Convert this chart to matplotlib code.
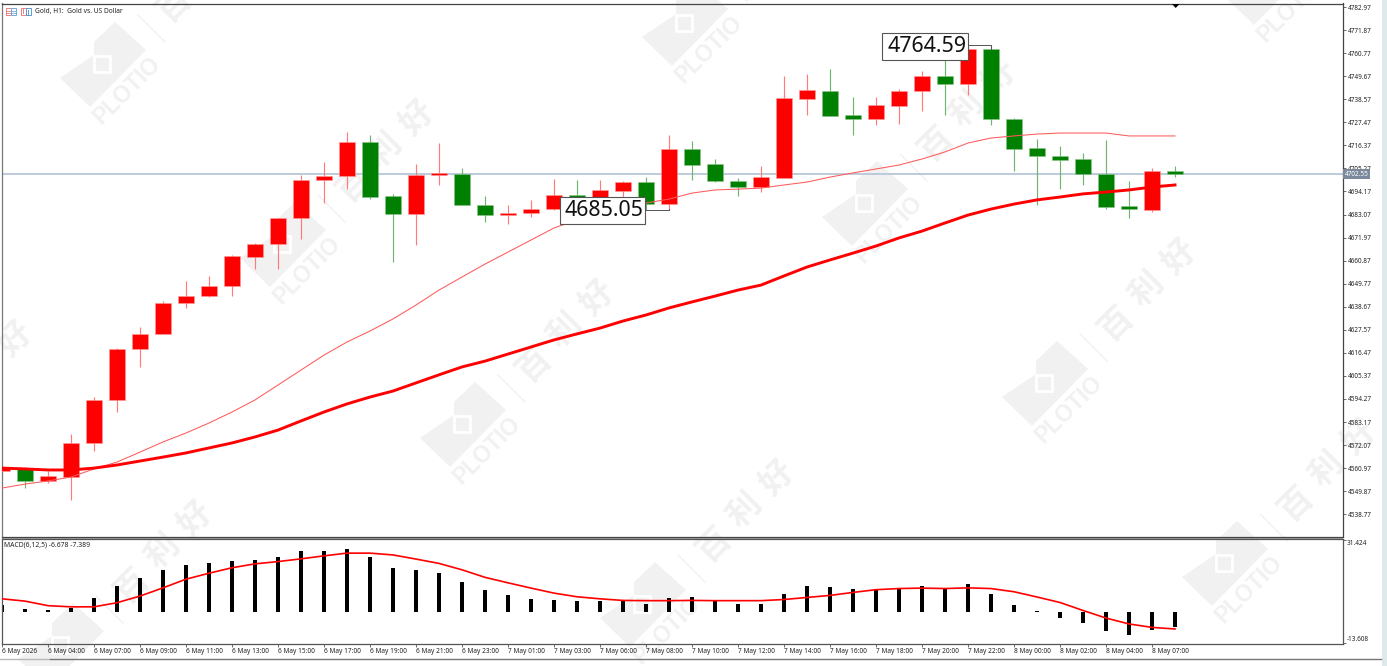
import matplotlib
matplotlib.use("Agg")
import matplotlib.pyplot as plt
from matplotlib.patches import Polygon, Rectangle
from matplotlib.transforms import Affine2D
import numpy as np

W, H = 1387, 666
opens = [4559.6,4561.0,4554.8,4556.7,4573.1,4593.8,4618.3,4625.6,4640.5,4643.9,4648.7,4662.6,4668.9,4681.4,4699.7,4701.6,4718.0,4692.0,4683.3,4702.1,4702.6,4687.6,4682.8,4683.8,4685.7,4692.5,4691.0,4694.4,4698.7,4688.1,4714.6,4707.4,4699.2,4696.3,4700.6,4738.7,4742.5,4731.0,4729.0,4735.3,4742.5,4749.8,4745.9,4762.8,4729.0,4715.1,4711.2,4709.8,4702.6,4687.2,4685.2,4704.0]
highs = [4562.0,4561.5,4559.6,4577.4,4595.2,4618.8,4628.9,4641.4,4651.1,4653.5,4663.6,4669.4,4681.4,4702.1,4708.3,4722.8,4721.3,4692.9,4707.4,4717.5,4705.5,4692.0,4687.6,4690.1,4700.2,4699.7,4699.7,4699.2,4701.1,4721.3,4718.5,4709.8,4700.6,4706.4,4749.8,4750.7,4753.1,4739.6,4739.6,4743.5,4752.2,4758.4,4764.2,4764.59,4729.5,4719.4,4716.0,4712.7,4718.9,4699.2,4705.5,4706.4]
lows = [4559.1,4551.4,4553.8,4545.6,4569.2,4588.0,4609.7,4625.8,4638.1,4643.4,4643.9,4656.8,4656.8,4671.3,4688.6,4695.3,4690.5,4660.2,4668.4,4697.3,4687.6,4679.5,4678.5,4681.9,4685.2,4686.2,4688.6,4689.6,4685.2,4685.05,4699.7,4698.7,4692.0,4693.9,4700.6,4731.0,4730.5,4721.3,4726.2,4726.6,4732.9,4731.0,4740.6,4726.2,4704.0,4687.6,4695.3,4697.3,4685.7,4681.4,4684.3,4701.1]
closes = [4561.5,4554.8,4557.2,4573.1,4593.8,4618.3,4625.6,4640.5,4643.9,4648.7,4663.1,4668.9,4681.4,4699.7,4701.6,4718.0,4691.5,4683.3,4702.1,4703.1,4687.6,4682.8,4683.8,4685.7,4692.5,4691.0,4694.9,4698.7,4688.1,4714.6,4706.9,4699.2,4696.3,4701.1,4739.2,4743.0,4730.5,4729.0,4735.8,4742.5,4749.8,4745.9,4762.8,4729.0,4714.6,4711.2,4709.3,4702.6,4686.7,4685.7,4704.0,4702.55]
ma_thin = [4551.4,4553.3,4554.8,4556.7,4560.6,4563.9,4568.7,4573.6,4577.9,4582.7,4588.0,4593.8,4601.0,4608.2,4615.4,4621.7,4627.0,4632.8,4639.5,4646.7,4653.0,4659.2,4665.0,4670.8,4676.6,4680.4,4683.3,4686.2,4688.6,4690.5,4693.4,4694.9,4695.3,4695.8,4697.3,4698.7,4701.1,4703.1,4705.0,4706.9,4709.8,4713.2,4717.5,4719.9,4720.9,4721.8,4722.3,4722.3,4722.3,4720.9,4720.9,4720.9]
ma_thick = [4561.0,4560.6,4560.1,4560.1,4561.0,4562.5,4564.4,4566.3,4568.3,4570.7,4573.1,4576.0,4579.3,4583.7,4588.0,4591.9,4595.2,4598.1,4602.0,4605.9,4609.7,4612.5,4615.9,4619.3,4622.7,4625.6,4628.4,4631.8,4634.7,4638.1,4641.0,4643.8,4646.7,4649.1,4653.5,4657.8,4661.2,4664.5,4667.9,4671.8,4675.1,4679.0,4682.8,4685.7,4688.1,4690.1,4691.5,4693.0,4693.9,4694.9,4696.3,4697.3]
macd_hist = [2.9,1.3,0.7,1.9,6.1,11.2,15.0,18.5,20.4,21.3,22.4,23.0,24.3,26.7,26.7,27.8,24.2,19.4,18.2,16.9,13.1,9.6,7.4,5.8,5.5,5.0,5.0,5.2,3.6,6.1,6.4,5.2,3.6,3.4,8.0,11.2,10.8,9.9,9.8,10.5,11.2,10.1,12.1,7.7,3.1,0.3,-2.8,-4.8,-8.3,-9.9,-8.0,-6.678]
macd_signal = [5.8,4.8,2.8,2.3,2.3,4.1,7.0,10.6,14.4,17.0,19.4,21.1,22.1,23.3,24.6,25.8,25.8,25.0,23.2,21.3,18.5,15.2,12.8,10.5,8.3,6.7,5.8,5.1,5.0,5.0,5.1,5.0,5.0,5.0,5.5,6.4,7.3,8.6,9.8,10.3,10.5,10.3,10.6,10.3,8.9,6.6,4.2,0.7,-2.6,-5.2,-6.7,-7.389]
price_ticks = [4782.97,4771.87,4760.77,4749.67,4738.57,4727.47,4716.37,4705.27,4694.17,4683.07,4671.97,4660.87,4649.77,4638.67,4627.57,4616.47,4605.37,4594.27,4583.17,4572.07,4560.97,4549.87,4538.77]
time_labels = ["6 May 2026","6 May 04:00","6 May 07:00","6 May 09:00","6 May 11:00","6 May 13:00","6 May 15:00","6 May 17:00","6 May 19:00","6 May 21:00","6 May 23:00","7 May 01:00","7 May 03:00","7 May 06:00","7 May 08:00","7 May 10:00","7 May 12:00","7 May 14:00","7 May 16:00","7 May 18:00","7 May 20:00","7 May 22:00","8 May 00:00","8 May 02:00","8 May 04:00","8 May 07:00"]
last_price = 4702.55
low_mark = 4685.05
high_mark = 4764.59

FONT = "Noto Sans"
UP, DOWN = "#ff0000", "#008000"
PX = Affine2D().scale(1, -1).translate(0, H)

def pane(left, top, right, bottom):
    return [left / W, 1 - bottom / H, (right - left) / W, (bottom - top) / H]

fig = plt.figure(figsize=(W / 100, H / 100), dpi=100, facecolor="white")
bg = fig.add_axes([0, 0, 1, 1], zorder=0)
bg.set_xlim(0, W); bg.set_ylim(H, 0); bg.axis("off")

# watermark lattice
WM = "#f1f1f1"
anchors = [(102,65),(282,245),(462,425),(642,605),(684,24),(864,204),(1044,384),(1224,564),
           (1266,-17),(60,646),(-120,466)]
for ax0, ay0 in anchors:
    shape = np.array([(13,-43),(44,-15),(-12,42),(-42,13),(-8,-10),(-8,-23)]) + (ax0, ay0)
    bg.add_patch(Polygon(shape, closed=True, fc=WM, ec="none", clip_on=True))
    bg.add_patch(Rectangle((ax0 - 8, ay0 - 9), 16, 16, fc=WM, ec="white", lw=2))
    if 0 <= ax0 + 25 <= W and 0 <= ay0 + 25 <= H:
        bg.text(ax0 + 25, ay0 + 25, "PLOTIO", color=WM, fontsize=16.5, fontweight="bold", rotation=45,
                rotation_mode="anchor", ha="center", va="center", family="Liberation Sans", clip_on=True)
    bg.plot([ax0 + 36, ax0 + 63], [ay0 - 50, ay0 - 23], color=WM, lw=1)
    for ch, (dx, dy) in zip("百利好", [(72,-60),(103,-94),(135,-127)]):
        if -15 <= ax0 + dx <= W + 15 and -15 <= ay0 + dy <= H + 15:
            bg.text(ax0 + dx, ay0 + dy, ch, color=WM, fontsize=24, rotation=45, rotation_mode="anchor",
                    ha="center", va="center", family="Noto Sans CJK SC", fontweight="bold", clip_on=True)

# window chrome
bg.add_patch(Rectangle((1381.5, 0), 6, H, fc="#dfe8eb", ec="none", zorder=5))
bg.plot([0, 50], [658.5, 658.5], color="#b8b8b8", lw=1, zorder=5)
bg.plot([50, 1381], [658.5, 658.5], color="#777777", lw=1, zorder=5)
bg.add_patch(Rectangle((2, 537), 1341, 1.5, fc="#a8a8a8", ec="none", zorder=5))

x = np.arange(len(opens))
ax = fig.add_axes(pane(2, 3.5, 1343, 536.5), zorder=2, facecolor="none")
ax.set_xlim(0, 1341 / 23)
ax.set_ylim(4528.07, 4784.66)

ax.axhline(last_price, color="#b7c6d8", lw=1.3, zorder=1)
up = np.array(closes) >= np.array(opens)
wick = ["#ff7a7a" if u else "#6fb46f" for u in up]
ax.vlines(x, lows, highs, colors=wick, lw=0.85, zorder=2)
bottoms = np.minimum(opens, closes)
heights = np.abs(np.array(closes) - np.array(opens))
ax.bar(x, heights, bottom=bottoms, width=0.72,
       color=[UP if u else DOWN for u in up],
       edgecolor=["#ff9a9a" if u else "#8cc48c" for u in up], linewidth=0.4, zorder=3)
ax.plot(x, ma_thin, color="#ff5a5a", lw=0.75, zorder=4)
ax.plot(x, ma_thick, color="#ff0000", lw=2.1, zorder=4)

ax.yaxis.tick_right()
ax.set_yticks(price_ticks)
ax.set_yticklabels([f"{v:.2f}" for v in price_ticks], fontsize=4.6, family=FONT, color="#222222")
ax.tick_params(axis="y", length=2.2, width=0.5, pad=1.2, color="#333333")
ax.set_xticks([])
for name, sp in ax.spines.items():
    sp.set_color("#444444"); sp.set_linewidth(0.9)
ax.spines["left"].set_color("#777777")

ax.text(1345, 174, f"{last_price:.2f}", transform=PX, fontsize=4.6, family=FONT, color="white",
        ha="left", va="center", clip_on=False, zorder=8,
        bbox=dict(boxstyle="square,pad=0.25", fc="#7a8a9c", ec="none"))
ax.add_patch(Polygon([(1172, 4), (1179.5, 4), (1175.7, 8)], closed=True, fc="black", ec="none",
                     transform=PX, clip_on=False, zorder=8))

# price labels with connectors
ax.plot([27.5, 29, 29], [low_mark, low_mark, lows[29] + 0.9], color="#555555", lw=0.7, zorder=6)
ax.plot([41.5, 43, 43], [high_mark, high_mark, highs[43] - 1.8], color="#555555", lw=0.7, zorder=6)
for (l, t, r, b), val in [((559.5, 197, 645, 224), low_mark), ((881.5, 32.5, 967.5, 59.5), high_mark)]:
    ax.add_patch(Rectangle((l, t), r - l, b - t, transform=PX, fc="white", ec="#555555", lw=0.8,
                           zorder=7, clip_on=False))
    ax.text((l + r) / 2 + 2, (t + b) / 2, f"{val:.2f}", transform=PX, fontsize=15.4, family=FONT,
            color="#111111", ha="center", va="center", zorder=8)

# indicator pane
ind = fig.add_axes(pane(2, 538.5, 1343, 643.5), zorder=2, facecolor="none")
ind.set_xlim(0, 1341 / 23)
ind.set_ylim(-13.75, 32.2)
ind.bar(x, macd_hist, width=0.2, color="black", zorder=2)
ind.plot(x, macd_signal, color="#ff0000", lw=1.2, zorder=3)
ind.yaxis.tick_right()
ind.set_yticks([31.424, -13.608])
ind.set_yticklabels(["31.424", "-13.608"], fontsize=4.6, family=FONT, color="#222222")
labs = ind.get_yticklabels()
labs[0].set_va("top"); labs[1].set_va("bottom")
ind.tick_params(axis="y", length=2.2, width=0.5, pad=0.5, color="#333333")
ind.set_xticks(x[::2])
ind.set_xticklabels(time_labels, fontsize=4.7, family=FONT, color="#222222", ha="left")
ind.tick_params(axis="x", length=2, width=0.5, pad=1.5, color="#333333")
for sp in ind.spines.values():
    sp.set_color("#555555"); sp.set_linewidth(0.9)

# header texts and icons
bg.text(35, 11.5, "Gold, H1:  Gold vs. US Dollar", fontsize=4.8, family=FONT, color="#222222", va="center", zorder=6)
bg.text(4, 545.5, "MACD(6,12,5) -6.678 -7.389", fontsize=4.9, family=FONT, color="#222222", va="center", zorder=6)
for col, x0 in [("#ef7f7f", 5.5), ("#6fa8dc", 10.5)]:
    bg.add_patch(Rectangle((x0, 8), 5, 7, fc="white", ec=col, lw=0.7, zorder=6))
    bg.plot([x0, x0 + 5], [10.5, 10.5], color=col, lw=0.6, zorder=6)
    bg.plot([x0, x0 + 5], [13, 13], color=col, lw=0.6, zorder=6)
bg.add_patch(Rectangle((20.5, 8), 5, 7, fc="white", ec="#ef7f7f", lw=0.7, zorder=6))
bg.add_patch(Rectangle((25.5, 8), 5, 7, fc="white", ec="#5b9bd5", lw=0.7, zorder=6))
bg.plot([23, 23], [8, 13], color="#ef7f7f", lw=0.7, zorder=6)
bg.plot([28, 28], [10, 15], color="#5b9bd5", lw=0.7, zorder=6)

fig.savefig("out.png", dpi=100)
